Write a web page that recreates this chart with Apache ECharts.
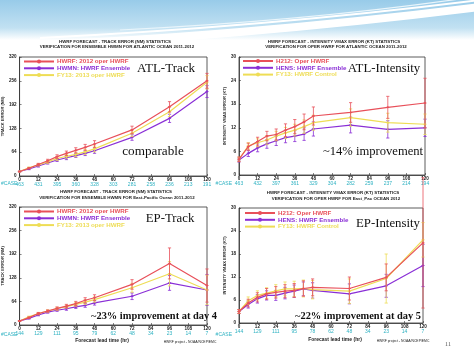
<!DOCTYPE html>
<html><head><meta charset="utf-8">
<script src="https://cdn.jsdelivr.net/npm/echarts@6/dist/echarts.min.js"></script>
<style>html,body{margin:0;padding:0;background:#fff}#c{width:474px;height:355px}</style>
</head><body><div id="c"></div>
<script>
// ---------- data ----------
const leadTimes = [0, 6, 12, 18, 24, 30, 36, 42, 48, 72, 96, 120];
const xTicks = [0, 12, 24, 36, 48, 60, 72, 84, 96, 108, 120];

const trackLegend = ['HWRF: 2012 oper HWRF', 'HWMN: HWRF Ensemble', 'FY13: 2013 oper HWRF'];
const intLegend = ['H212: Oper HWRF', 'HENS: HWRF Ensemble', 'FY13: HWRF Control'];

// ATL track (NM)
const atlTrackCases = ['463','431','395','360','328','303','281','258','236','213','191'];
const atlTrackOper = [12, 21, 31, 41, 52, 61, 69, 77, 86, 124, 186, 256];
const atlTrackEns  = [12, 19, 27, 35, 43, 49, 55, 61, 68, 104, 155, 227];
const atlTrackFy13 = [12, 22, 30, 38, 47, 53, 58, 65, 73, 115, 173, 252];
const atlTrackOperErr = [1, 2, 3, 4, 5, 6, 7, 8, 9, 10, 14, 20];
const atlTrackEnsErr  = [1, 2, 3, 3, 4, 5, 5, 6, 7, 8, 11, 16];
const atlTrackFy13Err = [1, 2, 3, 4, 5, 5, 6, 7, 8, 9, 13, 18];

// ATL intensity (KT)
const atlIntCases = ['463','432','397','361','329','304','282','259','237','214','194'];
const atlIntOper = [4.0, 7.2, 8.5, 9.9, 10.3, 11.4, 12.3, 13.5, 15.0, 15.9, 17.2, 18.3];
const atlIntEns  = [3.8, 5.5, 6.9, 7.9, 8.7, 9.5, 9.9, 10.4, 11.7, 12.7, 11.6, 12.0];
const atlIntFy13 = [4.0, 7.4, 8.2, 8.9, 9.9, 10.7, 11.4, 12.3, 13.3, 14.6, 13.3, 12.9];
const atlIntOperErr = [0.6, 0.9, 1.1, 1.2, 1.4, 1.6, 1.8, 2.0, 2.3, 2.5, 2.8, 6.3];
const atlIntEnsErr  = [0.5, 0.8, 1.0, 1.1, 1.2, 1.3, 1.4, 1.6, 1.8, 2.0, 2.2, 2.2];
const atlIntFy13Err = [0.5, 0.8, 1.0, 1.1, 1.2, 1.4, 1.5, 1.7, 1.9, 2.2, 2.4, 2.6];

// EP track (NM)
const epTrackCases = ['144','129','111','95','79','62','48','34','23','14','7'];
const epTrackOper = [11, 20, 31, 38, 45, 51, 58, 67, 74, 110, 167, 107];
const epTrackEns  = [11, 18, 27, 35, 40, 44, 49, 53, 60, 78, 114, 95];
const epTrackFy13 = [11, 22, 31, 38, 44, 50, 56, 62, 69, 101, 139, 95];
const epTrackOperErr = [1, 2, 3, 3, 4, 5, 6, 7, 8, 13, 42, 45];
const epTrackEnsErr  = [1, 2, 2, 3, 3, 4, 4, 5, 6, 9, 20, 42];
const epTrackFy13Err = [1, 2, 3, 3, 4, 4, 5, 6, 7, 12, 33, 40];

// EP intensity (KT)
const epIntCases = ['144','129','111','95','78','62','48','34','23','14','7'];
const epIntOper = [3.0, 5.2, 6.7, 7.6, 8.0, 8.3, 8.5, 9.0, 9.3, 9.0, 11.9, 20.9];
const epIntEns  = [3.0, 4.8, 6.3, 7.2, 7.2, 7.8, 8.3, 8.9, 8.5, 7.6, 9.7, 15.0];
const epIntFy13 = [3.0, 5.8, 7.2, 7.8, 8.4, 8.9, 8.9, 9.0, 8.7, 8.3, 11.6, 21.7];
const epIntOperErr = [0.5, 1.0, 1.2, 1.4, 1.5, 1.7, 1.8, 2.0, 2.2, 3.0, 3.5, 17];
const epIntEnsErr  = [0.5, 0.9, 1.1, 1.2, 1.3, 1.5, 1.6, 1.8, 2.0, 2.6, 3.0, 5.5];
const epIntFy13Err = [0.5, 1.0, 1.2, 1.4, 1.6, 1.8, 2.0, 2.2, 2.4, 3.2, 6.4, 4.5];

// ---------- style ----------
const RED = '#e8505a', PURPLE = '#8a2fd6', YELLOW = '#eedd55', TEAL = '#2fb2c2', INK = '#222';
const SANS = 'Liberation Sans', SERIF = 'Liberation Serif';

const grids = [
  {left: 19, top: 57, width: 188, height: 119},
  {left: 239, top: 57, width: 186, height: 118},
  {left: 19, top: 207, width: 188, height: 118},
  {left: 239, top: 208, width: 184, height: 115}
];
const caseSets = [atlTrackCases, atlIntCases, epTrackCases, epIntCases];

const xAxes = grids.map((g, i) => ({
  gridIndex: i, type: 'value', min: 0, max: 120, interval: 12,
  splitLine: {show: false},
  axisLine: {show: true, lineStyle: {color: '#333', width: 0.8}},
  axisTick: {show: true, inside: true, length: 2, lineStyle: {color: '#333', width: 0.6}},
  axisLabel: {
    margin: 1,
    formatter: v => '{a|' + v + '}\n{b|' + caseSets[i][xTicks.indexOf(v)] + '}',
    rich: {
      a: {fontSize: 4.6, fontWeight: 'bold', color: INK, fontFamily: SANS, lineHeight: 5.4},
      b: {fontSize: 5, color: TEAL, fontFamily: SANS, lineHeight: 5.4}
    }
  }
}));

const yAxes = grids.map((g, i) => {
  const track = (i % 2 === 0);
  return {
    gridIndex: i, type: 'value', min: 0, max: track ? 320 : 30, interval: track ? 64 : 6,
    splitLine: {show: false},
    axisLine: {show: true, lineStyle: {color: '#333', width: 0.8}},
    axisTick: {show: true, inside: true, length: 2, lineStyle: {color: '#333', width: 0.6}},
    axisLabel: {margin: 3, fontSize: 4.6, fontWeight: 'bold', color: INK, fontFamily: SANS},
    name: track ? 'TRACK ERROR (NM)' : 'INTENSITY VMAX ERROR (KT)',
    nameLocation: 'middle', nameRotate: 90, nameGap: track ? 11 : 8,
    nameTextStyle: {fontSize: 4, fontWeight: 'bold', color: INK, fontFamily: SANS}
  };
});

function lineSeries(name, color, vals, gi, z) {
  return {
    type: 'line', name: name, xAxisIndex: gi, yAxisIndex: gi, z: z,
    data: leadTimes.map((t, k) => [t, vals[k]]),
    symbol: 'circle', symbolSize: 2, showSymbol: true,
    lineStyle: {color: color, width: 1.2}, itemStyle: {color: color},
    animation: false
  };
}
function errSeries(name, color, vals, errs, gi, z) {
  return {
    type: 'custom', name: name + ' (err)', xAxisIndex: gi, yAxisIndex: gi, z: z,
    itemStyle: {color: color}, clip: false, animation: false,
    encode: {x: 0, y: 1},
    data: leadTimes.map((t, k) => [t, vals[k], errs[k]]),
    renderItem: function (params, api) {
      const x = api.value(0), y = api.value(1), e = api.value(2);
      const p1 = api.coord([x, y + e]), p2 = api.coord([x, y - e]), p0 = api.coord([x, y]);
      const c = api.visual('color'), w = 1.6, st = {stroke: c, lineWidth: 0.8};
      return {type: 'group', children: [
        {type: 'line', shape: {x1: p1[0], y1: p1[1], x2: p2[0], y2: p2[1]}, style: st},
        {type: 'line', shape: {x1: p1[0] - w, y1: p1[1], x2: p1[0] + w, y2: p1[1]}, style: st},
        {type: 'line', shape: {x1: p2[0] - w, y1: p2[1], x2: p2[0] + w, y2: p2[1]}, style: st},
        {type: 'line', shape: {x1: p0[0] - w, y1: p0[1], x2: p0[0] + w, y2: p0[1]}, style: st}
      ]};
    }
  };
}

const panels = [
  {names: trackLegend, vals: [atlTrackOper, atlTrackEns, atlTrackFy13], errs: [atlTrackOperErr, atlTrackEnsErr, atlTrackFy13Err]},
  {names: intLegend, vals: [atlIntOper, atlIntEns, atlIntFy13], errs: [atlIntOperErr, atlIntEnsErr, atlIntFy13Err]},
  {names: trackLegend, vals: [epTrackOper, epTrackEns, epTrackFy13], errs: [epTrackOperErr, epTrackEnsErr, epTrackFy13Err]},
  {names: intLegend, vals: [epIntOper, epIntEns, epIntFy13], errs: [epIntOperErr, epIntEnsErr, epIntFy13Err]}
];
const colors = [RED, PURPLE, YELLOW];
const zOrder = [5, 3, 4];
const series = [];
panels.forEach((p, gi) => {
  [1, 2, 0].forEach(k => {
    series.push(errSeries(p.names[k] + ' ' + gi, colors[k], p.vals[k], p.errs[k], gi, zOrder[k]));
    series.push(lineSeries(p.names[k], colors[k], p.vals[k], gi, zOrder[k]));
  });
});

const legendPos = [[23, 58.5], [242, 58], [23, 208.5], [244, 210]];
const legends = panels.map((p, gi) => ({
  orient: 'vertical', left: legendPos[gi][0], top: legendPos[gi][1], padding: 0,
  itemWidth: 30, itemHeight: 5, itemGap: 0.8, selectedMode: false,
  lineStyle: {width: 2},
  textStyle: {fontSize: 6.2, fontWeight: 'bold', fontFamily: SANS, padding: [0, 0, 0, -2], lineHeight: 6},
  data: p.names.map((n, k) => ({name: n, textStyle: {color: colors[k]}}))
}));

function txt(x, y, text, size, opts) {
  opts = opts || {};
  return {type: 'text', x: x, y: y, z: 100, silent: true,
    style: Object.assign({text: text, align: 'center', verticalAlign: 'middle', fontSize: size,
      fontFamily: SANS, fontWeight: 'bold', fill: INK}, opts)};
}

const graphics = [
  // slide banner
  {type: 'rect', z: -10, shape: {x: 0, y: 0, width: 474, height: 40},
   style: {fill: new echarts.graphic.LinearGradient(0, 0, 0, 1, [
     {offset: 0, color: '#98cbe9'}, {offset: 0.7, color: '#c2e1f2'}, {offset: 1, color: '#ffffff'}])}},
  {type: 'bezierCurve', z: -9, shape: {x1: 30, y1: 45, cpx1: 150, cpy1: 41, cpx2: 320, cpy2: 27, x2: 480, y2: 7},
   style: {fill: 'none', stroke: '#ffffff', lineWidth: 8}},
  {type: 'bezierCurve', z: -9, shape: {x1: 40, y1: 38, cpx1: 160, cpy1: 32, cpx2: 320, cpy2: 20, x2: 480, y2: 0},
   style: {fill: 'none', stroke: '#ffffff', lineWidth: 2}},
  {type: 'bezierCurve', z: -9, shape: {x1: 120, y1: 30, cpx1: 240, cpy1: 24, cpx2: 360, cpy2: 14, x2: 480, y2: -4},
   style: {fill: 'none', stroke: '#e9f5fb', lineWidth: 1.2}},
  // chart titles
  txt(115, 41.5, 'HWRF FORECAST - TRACK ERROR (NM) STATISTICS', 4.4),
  txt(117, 47, 'VERIFICATION FOR ENSEMBLE HWMN FOR ATLANTIC OCEAN 2011-2012', 4.4),
  txt(334, 41.5, 'HWRF FORECAST - INTENSITY VMAX ERROR (KT) STATISTICS', 4.4),
  txt(336, 47, 'VERIFICATION FOR OPER HWRF FOR ATLANTIC OCEAN 2011-2012', 4.4),
  txt(116, 191.5, 'HWRF FORECAST - TRACK ERROR (NM) STATISTICS', 4.4),
  txt(117, 197.5, 'VERIFICATION FOR ENSEMBLE HWMN FOR East-Pacific Ocean 2011-2012', 4.4),
  txt(333, 192.3, 'HWRF FORECAST - INTENSITY VMAX ERROR (KT) STATISTICS', 4.4),
  txt(336, 199, 'VERIFICATION FOR OPER HWRF FOR East_Pac OCEAN 2012', 4.4),
  // #CASE labels
  txt(1, 184, '#CASE', 5, {align: 'left', fill: TEAL, fontWeight: 'normal'}),
  txt(232, 184, '#CASE', 5, {align: 'right', fill: TEAL, fontWeight: 'normal'}),
  txt(1, 334.5, '#CASE', 5, {align: 'left', fill: TEAL, fontWeight: 'normal'}),
  txt(232, 334.5, '#CASE', 5, {align: 'right', fill: TEAL, fontWeight: 'normal'}),
  // x axis titles & credits
  txt(102, 340.5, 'Forecast lead time (hr)', 5),
  txt(335, 340, 'Forecast lead time (hr)', 5),
  txt(190, 342, 'HWRF project - NOAA/NCEP/EMC', 3.4, {fontWeight: 'normal'}),
  txt(403, 341, 'HWRF project - NOAA/NCEP/EMC', 3.4, {fontWeight: 'normal'}),
  // annotations
  txt(166, 68.5, 'ATL-Track', 13, {fontFamily: SERIF, fontWeight: 'normal', fill: '#111'}),
  txt(153, 152, 'comparable', 13.2, {fontFamily: SERIF, fontWeight: 'normal', fill: '#111'}),
  txt(384, 69, 'ATL-Intensity', 12.8, {fontFamily: SERIF, fontWeight: 'normal', fill: '#111'}),
  txt(373, 152, '~14% improvement', 12.6, {fontFamily: SERIF, fontWeight: 'normal', fill: '#111'}),
  txt(170, 218.5, 'EP-Track', 12.8, {fontFamily: SERIF, fontWeight: 'normal', fill: '#111'}),
  txt(154, 316.5, '~23% improvement at day 4', 10.4, {fontFamily: SERIF, fill: '#111'}),
  txt(388, 223.5, 'EP-Intensity', 12.8, {fontFamily: SERIF, fontWeight: 'normal', fill: '#111'}),
  txt(358, 316, '~22% improvement at day 5', 10.4, {fontFamily: SERIF, fill: '#111'}),
  // page number
  txt(448, 344, '11', 6, {fontWeight: 'normal', fill: '#555', fontFamily: SERIF})
];

const chart = echarts.init(document.getElementById('c'), null, {renderer: 'canvas'});
chart.setOption({
  animation: false,
  backgroundColor: '#ffffff',
  grid: grids.map(g => Object.assign({show: true, borderColor: '#333', borderWidth: 0.8, backgroundColor: '#fff'}, g)),
  xAxis: xAxes,
  yAxis: yAxes,
  legend: legends,
  series: series,
  graphic: graphics
});
</script></body></html>
